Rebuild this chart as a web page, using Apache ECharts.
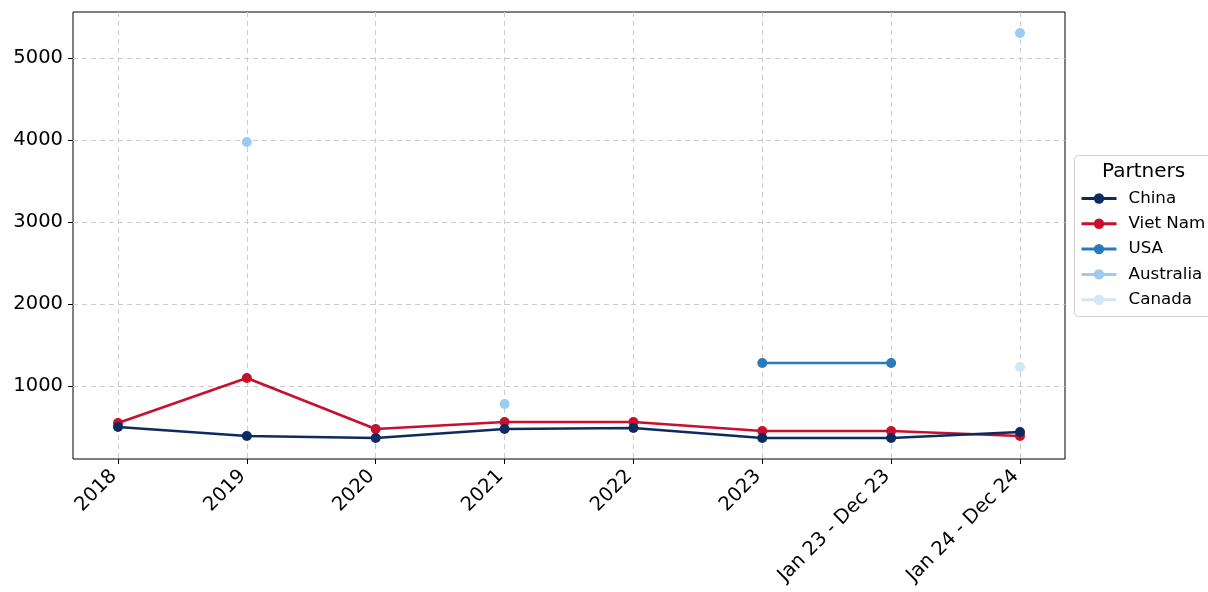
<!DOCTYPE html>
<html><head><meta charset="utf-8">
<script src="https://cdn.jsdelivr.net/npm/echarts@6/dist/echarts.min.js"></script>
<style>html,body{margin:0;padding:0;background:#fff}#c{width:1208px;height:592px}</style>
</head><body><div id="c"></div>
<script>
const categories = ['2018','2019','2020','2021','2022','2023','Jan 23 - Dec 23','Jan 24 - Dec 24'];
const yTicks = [1000, 2000, 3000, 4000, 5000];
const seriesNames = ['China','Viet Nam','USA','Australia','Canada'];
const china     = [500, 390, 366, 476, 488, 366, 366, 439];
const vietNam   = [549, 1098, 476, 561, 561, 451, 451, 390];
const usa       = [null, null, null, null, null, 1280, 1280, null];
const australia = [null, 3976, null, 780, null, null, null, 5305];
const canada    = [null, null, null, null, null, null, null, 1232];
const colors = ['#0d2b5e', '#c8102e', '#2b7bba', '#9dcaf0', '#d3e6f1'];

const FONT = 'DejaVu Sans';
const yMin = 110, yMax = 5560;
const chart = echarts.init(document.getElementById('c'));
const dataList = [china, vietNam, usa, australia, canada];

chart.setOption({
  animation: false,
  backgroundColor: '#fff',
  textStyle: { fontFamily: FONT },
  grid: [
    { left: 73, top: 12, width: 992, height: 447, show: true, borderColor: '#000', borderWidth: 1, backgroundColor: 'transparent' },
    { left: 118, top: 12, width: 902, height: 447 }
  ],
  xAxis: [
    { type: 'value', gridIndex: 0, min: 0, max: 1, show: false },
    { type: 'category', gridIndex: 1, data: categories, boundaryGap: false,
      axisLine: { show: false },
      axisTick: { show: true, length: 5, lineStyle: { color: '#000' }, alignWithLabel: true },
      axisLabel: { rotate: 45, fontSize: 19.5, color: '#000', fontFamily: FONT, margin: 10, interval: 0,
                   padding: [0, 6, 0, 0] },
      splitLine: { show: true, lineStyle: { type: [5, 4], color: '#cccccc', width: 1 } } }
  ],
  yAxis: [
    { type: 'value', gridIndex: 0, min: yMin, max: yMax,
      axisLine: { show: false },
      axisTick: { show: true, length: 5, lineStyle: { color: '#000' }, customValues: yTicks },
      axisLabel: { fontSize: 19.5, color: '#000', fontFamily: FONT, margin: 10, customValues: yTicks,
                   formatter: v => String(v) },
      splitLine: { show: true, lineStyle: { type: [5, 4], color: '#cccccc', width: 1 } } },
    { type: 'value', gridIndex: 1, min: yMin, max: yMax, show: false, splitLine: { show: false } }
  ],
  legend: {
    orient: 'vertical', left: 1080, top: 190, padding: 0,
    itemWidth: 35, itemHeight: 13, itemGap: 8.3,
    data: seriesNames,
    lineStyle: { width: 3 },
    textStyle: { fontSize: 16.7, color: '#000', fontFamily: FONT, lineHeight: 17, padding: [0, 0, 0, 7] }
  },
  graphic: [
    { type: 'rect', left: 1074, top: 155, z: -1, shape: { width: 150, height: 161, r: 4 },
      style: { fill: '#fff', stroke: '#d0d0d0', lineWidth: 1 } },
    { type: 'text', left: 1102, top: 162, z: 10,
      style: { text: 'Partners', fontSize: 20, fill: '#000', fontFamily: FONT } }
  ],
  series: seriesNames.map((name, i) => ({
    name: name, type: 'line', xAxisIndex: 1, yAxisIndex: 1,
    data: dataList[i], connectNulls: false,
    symbol: 'circle', symbolSize: 10, showSymbol: true, showAllSymbol: true,
    lineStyle: { width: 2.6, color: colors[i] },
    itemStyle: { color: colors[i] },
    z: 10 - i
  }))
});
</script></body></html>
